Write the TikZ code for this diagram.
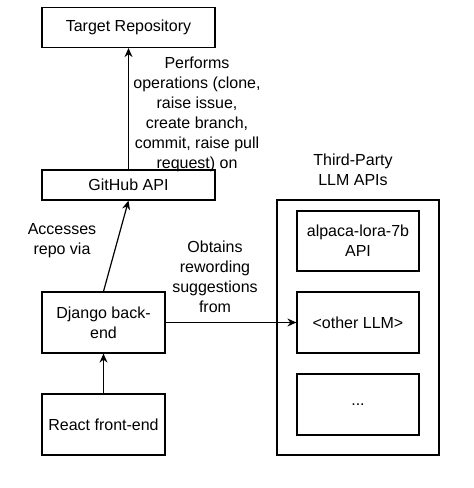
\documentclass[tikz,border=0pt]{standalone}
\usepackage{fontspec}
\setmainfont{Liberation Sans}
\usetikzlibrary{arrows.meta}
\begin{document}
\begin{tikzpicture}[x=1pt,y=-1pt,
  box/.style={draw,line width=1.2pt,inner sep=0pt,align=center,font=\fontsize{16}{20}\selectfont},
  lbl/.style={align=center,inner sep=0pt,font=\fontsize{16}{20}\selectfont},
  arr/.style={line width=1.2pt,-{Stealth[length=9pt,width=8pt]}}]
\useasboundingbox (0,0) rectangle (474,488);
\node[box,minimum width=173pt,minimum height=40pt] (target) at (128.5,27.5) {Target Repository};
\node[box,minimum width=173pt,minimum height=30pt] (github) at (128.5,185) {GitHub API};
\node[box,minimum width=123pt,minimum height=61pt] (django) at (103.5,322.5) {Django back-\\end};
\node[box,minimum width=123pt,minimum height=61pt] (react) at (103.5,424.5) {React front-end};
\node[box,minimum width=162pt,minimum height=255pt] (cont) at (358,327.5) {};
\node[box,minimum width=122pt,minimum height=60pt] (alpaca) at (358,241) {alpaca-lora-7b\\API};
\node[box,minimum width=122pt,minimum height=61pt] (other) at (358,322.5) {<other LLM>};
\node[box,minimum width=122pt,minimum height=61pt] (dots) at (358,404.5) {...};
\node[lbl] (tp) at (353,170) {Third-Party\\LLM APIs};
\draw[arr] (github.north) -- (target.south);
\draw[arr] (django.north) -- (github.south);
\draw[arr] (react.north) -- (django.south);
\draw[arr] (django.east) -- (other.west);
\node[lbl] (perf) at (197,114) {Performs\\operations (clone,\\raise issue,\\create branch,\\commit, raise pull\\request) on};
\node[lbl] (acc) at (62,241) {Accesses\\repo via};
\node[lbl] (obt) at (215,277) {Obtains\\rewording\\suggestions\\from};
\end{tikzpicture}
\end{document}
